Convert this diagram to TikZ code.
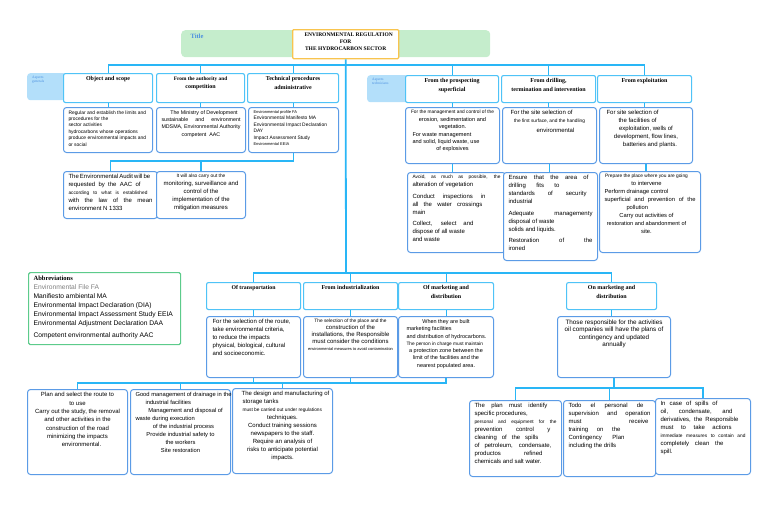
\documentclass[tikz,border=0pt]{standalone}
\usepackage{fontspec}
\setmainfont{Liberation Sans}
\newfontfamily\hdfont{Liberation Serif}
\definecolor{linkblue}{HTML}{29B6F6}
\definecolor{hdrblue}{HTML}{4FC3F7}
\definecolor{boxblue}{HTML}{5B9BE6}
\definecolor{aspfill}{HTML}{B3DFFA}
\definecolor{aspink}{HTML}{4A8FE0}
\definecolor{bandgreen}{HTML}{C5EDCC}
\definecolor{ttlorange}{HTML}{F8C44E}
\definecolor{abbrgreen}{HTML}{5CCB8B}
\newcommand\bx[4][8]{\parbox[c][\dimexpr#3pt-6pt\relax][t]{\dimexpr#2pt-10pt\relax}{\baselineskip=#1pt\relax#4}}
\newcommand\ctr[1]{\centerline{#1}}
\newcommand\lft[1]{\leftline{#1}}
\newcommand\jw[2]{\hbox to#1pt{#2}}
\newcommand\sm{\fontsize{4.8pt}{7pt}\selectfont}
\newcommand\xs{\fontsize{4pt}{6pt}\selectfont}
\newcommand\gap{\vspace{3.5pt}}

\begin{document}
\begin{tikzpicture}[x=1pt,y=-1pt,
  conn/.style={draw=linkblue,line width=1.1pt},
  trunk/.style={draw=linkblue,line width=1.8pt},
  band/.style={anchor=north west,fill=bandgreen,rounded corners=4pt,minimum width=309pt,minimum height=27pt,inner sep=0pt},
  hdr/.style={draw=hdrblue,line width=1.1pt,rounded corners=2pt,fill=white,inner xsep=5pt,inner ysep=3pt,anchor=north west,font=\hdfont\bfseries\fontsize{6pt}{8pt}\selectfont},
  txt/.style={draw=boxblue,line width=1pt,rounded corners=3pt,fill=white,inner xsep=5pt,inner ysep=3pt,anchor=north west,font=\fontsize{6pt}{8pt}\selectfont},
  aspect/.style={fill=aspfill,rounded corners=3pt,inner xsep=5pt,inner ysep=3pt,anchor=north west,text=aspink,font=\hdfont\fontsize{3.6pt}{4.5pt}\selectfont}]
\useasboundingbox (0,0) rectangle (768,525);

\node[band] (band) at (181,30) {};
\node[anchor=west,text=aspink,font=\hdfont\bfseries\fontsize{6.5pt}{8pt}\selectfont] (bandlab) at (187,36) {Title};
\node[hdr,draw=ttlorange,line width=1.3pt,rounded corners=1pt,font=\hdfont\bfseries\fontsize{5.5pt}{7pt}\selectfont] (ttl) at (292,29) {\bx[7]{106}{29}{\ctr{\hspace{6pt}ENVIRONMENTAL REGULATION}\ctr{FOR}\ctr{THE HYDROCARBON SECTOR}}};

\node[aspect] (asg) at (27,73) {\bx[4]{39}{27}{\lft{Aspects}\lft{generals}}};
\node[aspect] (ast) at (367,75) {\bx[4]{41}{27}{\lft{Aspects}\lft{technicians}}};

\node[hdr] (objh) at (63,73) {\bx{89}{29}{\ctr{Object and scope}}};
\node[hdr] (authh) at (156,73) {\bx[8.5]{88}{29}{\ctr{\fontsize{5.3pt}{8pt}\selectfont From the authority and}\ctr{competition}}};
\node[hdr] (proch) at (247,73) {\bx[8.5]{91}{29}{\ctr{Technical procedures}\ctr{administrative}}};
\node[hdr] (prosh) at (405,75) {\bx[8.5]{93}{27}{\ctr{From the prospecting}\ctr{superficial}}};
\node[hdr] (drilh) at (501,75) {\bx[8.5]{94}{27}{\ctr{From drilling,}\ctr{termination and intervention}}};
\node[hdr] (explh) at (597,75) {\bx{94}{27}{\ctr{From exploitation}}};

\node[txt,font=\fontsize{4.9pt}{6.4pt}\selectfont] (objt) at (63,107) {\bx[6.4]{89}{45}{\lft{Regular and establish the limits and}\lft{procedures for the}\lft{sector activities}\lft{hydrocarbons whose operations}\lft{produce environmental impacts and}\lft{or social}}};
\node[txt,font=\fontsize{5.3pt}{7.3pt}\selectfont] (autht) at (156,107) {\bx[7.3]{89}{45}{\ctr{\hspace{6pt}The Ministry of Development}\jw{79}{sustainable and environment}\jw{79}{MDSMA, Environmental Authority}\ctr{competent\ \ AAC}}};
\node[txt,font=\fontsize{4.9pt}{6.5pt}\selectfont] (proct) at (248,107) {\bx[6.5]{90}{45}{\lft{\xs Environmental profile FA}\lft{Environmental Manifesto MA}\lft{Environmental Impact Declaration}\lft{DAY}\lft{Impact Assessment Study}\lft{\xs Environmental EEIA}}};

\node[txt] (audit) at (63,171) {\bx{89}{47}{\jw{81}{The Environmental Audit will be}\lft{requested\ \ by\ \ the\ \ AAC\ \ of}\jw{79}{\sm according to what is established}\jw{84}{with the law of the mean}\lft{environment N 1333}}};
\node[txt] (monit) at (156,171) {\bx{89}{47}{\ctr{\sm It will also carry out the}\ctr{monitoring, surveillance and}\ctr{control of the}\ctr{implementation of the}\ctr{mitigation measures}}};

\node[txt,font=\fontsize{5.6pt}{7.4pt}\selectfont] (prost) at (405,107) {\bx[7.4]{94}{56}{\ctr{\sm For the management and control of the}\ctr{erosion, sedimentation and}\ctr{vegetation.}\lft{\hspace{2pt}For waste management}\lft{\hspace{2pt}and solid, liquid waste, use}\ctr{of explosives}}};
\node[txt] (drilt) at (502,107) {\bx{94}{56}{\lft{\hspace{3pt}For the site selection of}\ctr{\sm the first surface, and the handling}\vspace{2pt}\ctr{\hspace{12pt}environmental}}};
\node[txt] (explt) at (599,107) {\bx{93}{56}{\lft{\hspace{2pt}For site selection of}\lft{\hspace{14pt}the facilities of}\ctr{exploitation, wells of}\ctr{development, flow lines,}\ctr{\hspace{8pt}batteries and plants.}}};

\node[txt] (avoid) at (407,172) {\bx{94}{80}{\jw{88}{\sm Avoid,\ as much as possible, the}\lft{alteration of vegetation}\gap\jw{73}{Conduct inspections in}\jw{70}{all the water crossings}\lft{main}\gap\jw{61}{Collect, select and}\lft{dispose of all waste}\lft{and waste}}};
\node[txt] (ensure) at (503,172) {\bx{94}{88}{\jw{80}{Ensure that the area of}\jw{51}{drilling fits to}\jw{78}{standards of security}\lft{industrial}\gap\jw{84}{Adequate managementy}\lft{disposal of waste}\lft{solids and liquids.}\gap\jw{84}{Restoration of the}\lft{ironed}}};
\node[txt,font=\fontsize{5.8pt}{8pt}\selectfont] (prep) at (599,171) {\bx{94}{81}{\ctr{\sm Prepare the place where you are going}\ctr{to intervene}\lft{Perform drainage control}\jw{91}{superficial and prevention of the}\lft{\hspace{22pt}pollution}\ctr{Carry out activities of}\ctr{\fontsize{5.6pt}{8pt}\selectfont restoration and abandonment of}\ctr{site.}}};

\node[txt,draw=abbrgreen,line width=1.2pt,rounded corners=1.5pt,font=\fontsize{6.7pt}{9pt}\selectfont] (abbr) at (28,272) {\bx[9]{152}{72}{\lft{\hdfont\bfseries\fontsize{6.5pt}{9pt}\selectfont Abbreviations}\lft{\color{gray}Environmental File FA}\lft{Manifiesto ambiental MA}\lft{Environmental Impact Declaration (DIA)}\lft{Environmental Impact Assessment Study EEIA}\lft{Environmental Adjustment Declaration DAA}\vspace{3pt}\lft{Competent environmental authority AAC}}};

\node[hdr,font=\hdfont\bfseries\fontsize{5.8pt}{8pt}\selectfont] (transh) at (206,282) {\bx{94}{27}{\ctr{Of transportation}}};
\node[hdr] (indh) at (303,282) {\bx{94}{27}{\ctr{From industrialization}}};
\node[hdr] (markh) at (398,282) {\bx[8.5]{95}{27}{\ctr{Of marketing and}\ctr{distribution}}};
\node[hdr] (onmh) at (566,282) {\bx[8.5]{90}{27}{\ctr{On marketing and}\ctr{distribution}}};

\node[txt] (transt) at (206,316) {\bx{94}{61}{\lft{\hspace{1pt}For the selection of the route,}\lft{\hspace{1pt}take environmental criteria,}\lft{\hspace{1pt}to reduce the impacts}\lft{\hspace{1pt}physical, biological, cultural}\lft{\hspace{1pt}and socioeconomic.}}};
\node[txt] (indt) at (303,316) {\bx[7]{94}{61}{\ctr{\sm The selection of the place and the}\ctr{construction of the}\ctr{installations, the Responsible}\ctr{must consider the conditions}\ctr{\xs environmental measures to avoid contamination}}};
\node[txt,font=\fontsize{5.5pt}{7.3pt}\selectfont] (markt) at (398,316) {\bx[7.3]{95}{61}{\ctr{When they are built}\lft{\hspace{3pt}marketing facilities}\lft{\hspace{3pt}and distribution of hydrocarbons.}\lft{\hspace{3pt}\sm The person in charge must maintain}\ctr{a protection zone between the}\ctr{limit of the facilities and the}\ctr{nearest populated area.}}};
\node[txt,font=\fontsize{6.3pt}{7.5pt}\selectfont] (onmt) at (557,316) {\bx[7.5]{113}{61}{\ctr{Those responsible for the activities}\ctr{oil companies will have the plans of}\ctr{contingency and updated}\ctr{annually}}};

\node[txt] (plan) at (27,389) {\bx[8.3]{100}{85}{\ctr{Plan and select the route to}\ctr{to use}\ctr{Carry out the study, the removal}\ctr{and other activities in the}\ctr{construction of the road}\ctr{minimizing the impacts}\ctr{\hspace{8pt}environmental.}}};
\node[txt,font=\fontsize{5.8pt}{8pt}\selectfont] (good) at (130,389) {\bx{100}{85}{\lft{Good management of drainage in the}\lft{\hspace{10pt}industrial facilities}\ctr{\hspace{10pt}Management and disposal of}\lft{waste during execution}\ctr{\hspace{6pt}of the industrial process}\ctr{Provide industrial safety to}\ctr{the workers}\ctr{Site restoration}}};
\node[txt] (design) at (232,388) {\bx{100}{85}{\ctr{\hspace{6pt}The design and manufacturing of}\lft{\hspace{5pt}storage tanks}\lft{\hspace{5pt}\sm must be carried out under regulations}\ctr{techniques.}\ctr{Conduct training sessions}\ctr{newspapers to the staff.}\ctr{Require an analysis of}\ctr{risks to anticipate potential}\ctr{impacts.}}};

\node[txt] (plan2) at (469,400) {\bx{90}{76}{\jw{73}{The plan must identify}\lft{specific procedures,}\jw{82}{\sm personal and equipment for the}\jw{76}{prevention control y}\jw{64}{cleaning of the spills}\jw{77}{of petroleum, condensate,}\jw{68}{productos refined}\lft{chemicals and salt water.}}};
\node[txt] (todo) at (563,400) {\bx{89}{76}{\jw{75}{Todo el personal de}\jw{82}{supervision and operation}\jw{80}{must receive}\jw{52}{training on the}\jw{56}{Contingency Plan}\lft{including the drills}}};
\node[txt] (spill) at (655,398) {\bx{89}{76}{\jw{57}{In case of spills of}\jw{72}{oil, condensate, and}\jw{78}{derivatives, the Responsible}\jw{71}{must to take actions}\jw{85}{\sm immediate measures to contain and}\jw{63}{completely clean the}\lft{spill.}}};

\coordinate (topbus) at (346,65);
\coordinate (lbus) at (200,161);
\coordinate (midbus) at (346,273);
\coordinate (lowbus) at (254,383);
\coordinate (rbus) at (613,388);

\draw[trunk] (ttl.south) -- (midbus);
\draw[conn] (objh.north) |- (topbus) -| (explh.north);
\foreach \n in {authh,proch,prosh,drilh}
  \draw[conn] (\n.north) -- (\n.north |- topbus);
\foreach \a/\b in {objh/objt,authh/autht,proch/proct,prosh/prost,drilh/drilt,explh/explt,prost/avoid,drilt/ensure,explt/prep}
  \draw[conn] (\a.south) -- (\a.south |- \b.north);
\draw[conn] (proct.south) |- (lbus) -| (audit.north);
\draw[conn] (monit.north) -- (monit.north |- lbus);

\draw[conn] (transh.north) |- (midbus) -| (onmh.north);
\foreach \n in {indh,markh}
  \draw[conn] (\n.north) -- (\n.north |- midbus);
\foreach \a/\b in {transh/transt,indh/indt,markh/markt,onmh/onmt}
  \draw[conn] (\a.south) -- (\a.south |- \b.north);

\draw[conn] (plan.north) |- (lowbus) -| (markt.south);
\foreach \n in {good,design}
  \draw[conn] (\n.north) -- (\n.north |- lowbus);
\foreach \n in {transt,indt}
  \draw[conn] (\n.south) -- (\n.south |- lowbus);

\draw[conn] (onmt.south) -- (onmt.south |- rbus);
\draw[conn] (plan2.north) |- (rbus) -| (spill.north);
\draw[conn] (todo.north) -- (todo.north |- rbus);
\end{tikzpicture}
\end{document}
